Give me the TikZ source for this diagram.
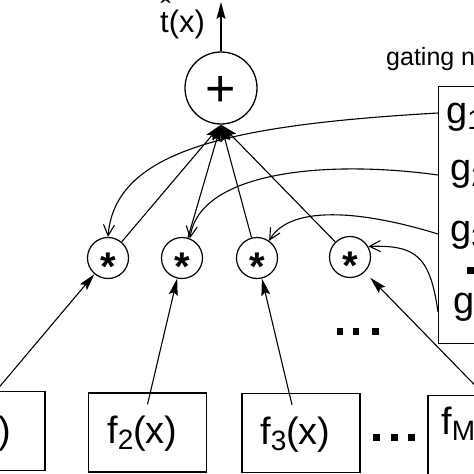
\documentclass[tikz,border=0pt]{standalone}
\usepackage{fontspec}
\setmainfont{Liberation Sans}
\usetikzlibrary{arrows.meta,calc}
\newcommand\sbs[1]{\raisebox{-6pt}{\fontsize{28}{28}\selectfont #1}}
\begin{document}
\begin{tikzpicture}[x=1pt,y=-1pt,
  conn/.style={line width=1.1pt},
  fa/.style={conn,-{Stealth[length=17pt,width=9pt,inset=3pt]}},
  ga/.style={conn,-{Straight Barb[length=11pt,width=11pt]}},
  mult/.style={circle,draw,line width=1.2pt,minimum size=41pt,inner sep=0pt,font=\fontsize{40}{40}\selectfont\bfseries},
  sumc/.style={circle,draw,line width=1.3pt,minimum size=72pt,inner sep=0pt,font=\fontsize{52}{52}\selectfont},
  fbox/.style={draw,line width=1.3pt,minimum width=118pt,minimum height=79pt,inner sep=0pt},
  flbl/.style={anchor=base west,inner sep=0pt,font=\fontsize{38}{38}\selectfont},
  glbl/.style={anchor=base west,inner sep=0pt,font=\fontsize{38}{38}\selectfont},
  sq/.style={fill=black}]
\useasboundingbox (0,0) rectangle (474,474);
\clip (0,0) rectangle (474,474);

% sum node and output
\node[sumc] (plus) at (221,88) {\raisebox{-18pt}[0pt][0pt]{+}};
\coordinate (tout) at (221,2);
\draw[fa] (plus.north) -- (tout);
\node[anchor=base west,inner sep=0pt,font=\fontsize{31}{31}\selectfont] (that) at (160,32)
  {\rlap{\hspace{0.5pt}\raisebox{11pt}{\char"02C6}}t(x)};

% multipliers
\node[mult] (s1) at (108,258) {\raisebox{-22.5pt}[0pt][0pt]{*}};
\node[mult] (s2) at (182,258) {\raisebox{-22.5pt}[0pt][0pt]{*}};
\node[mult] (s3) at (257,258) {\raisebox{-22.5pt}[0pt][0pt]{*}};
\node[mult] (sM) at (350,257) {\raisebox{-22.5pt}[0pt][0pt]{*}};

% expert boxes
\node[fbox] (f1) at (-14,431) {};
\node[fbox] (f2) at (147.5,432.5) {};
\node[fbox] (f3) at (301,433) {};
\node[fbox] (fM) at (487,435) {};
\node[flbl,anchor=base east] (f1t) at (11,443) {f\sbs{1}(x)};
\node[flbl] (f2t) at (107,443) {f\sbs{2}(x)};
\node[flbl] (f3t) at (260,444) {f\sbs{3}(x)};
\node[flbl] (fMt) at (441,434) {f\sbs{M}(x)};

% gating network
\node[anchor=base west,inner sep=0pt,font=\fontsize{25}{25}\selectfont] (gtitle) at (386,65) {gating network};
\node[draw,line width=1.3pt,minimum width=100pt,minimum height=257pt,anchor=north west,inner sep=0pt] (gate) at (438,86) {};
\node[glbl] (g1) at (446,123) {g\sbs{1}};
\node[glbl] (g2) at (450,180) {g\sbs{2}};
\node[glbl] (g3) at (450,241) {g\sbs{3}};
\node[glbl] (gM) at (453,313) {g\sbs{M}};
\coordinate (o1) at ($(gate.north west)+(0,27)$);
\coordinate (o2) at ($(gate.north west)+(0,89)$);
\coordinate (o3) at ($(gate.north west)+(0,148)$);
\coordinate (o4) at ($(gate.north west)+(0,226)$);

% dots
\fill[sq] (467,267) rectangle ++(6.5,6.5);
\fill[sq] (485,267) rectangle ++(6.5,6.5);
\fill[sq] (336.5,328) rectangle ++(6.5,6.5);
\fill[sq] (352.5,328) rectangle ++(6.5,6.5);
\fill[sq] (372,328) rectangle ++(6.5,6.5);
\fill[sq] (373,434) rectangle ++(6.5,6.5);
\fill[sq] (391,434) rectangle ++(6.5,6.5);
\fill[sq] (408,434) rectangle ++(6.5,6.5);

% products to sum
\draw[fa] (s1) -- (plus.south);
\draw[fa] (s2) -- (plus.south);
\draw[fa] (s3) -- (plus.south);
\draw[fa] (sM) -- (plus.south);

% experts to multipliers
\draw[fa] ([yshift=-12pt]f1.north) -- (s1);
\draw[fa] ([yshift=-12pt]f2.north) -- (s2);
\draw[fa] ([xshift=-9pt,yshift=-12pt]f3.north) -- (s3);
\draw[fa,shorten >=8pt] ([xshift=9pt,yshift=-12pt]fM.north) -- (sM);

% gates to multipliers
\draw[ga] (o1) .. controls (230,125) and (115,150) .. (s1.north);
\draw[ga] (o2) .. controls (330,160) and (200,170) .. (s2.68);
\draw[ga] (o3) .. controls (360,210) and (290,205) .. (s3.55);
\draw[ga] (o4) .. controls (430,255) and (415,245) .. (sM.30);
\end{tikzpicture}
\end{document}
